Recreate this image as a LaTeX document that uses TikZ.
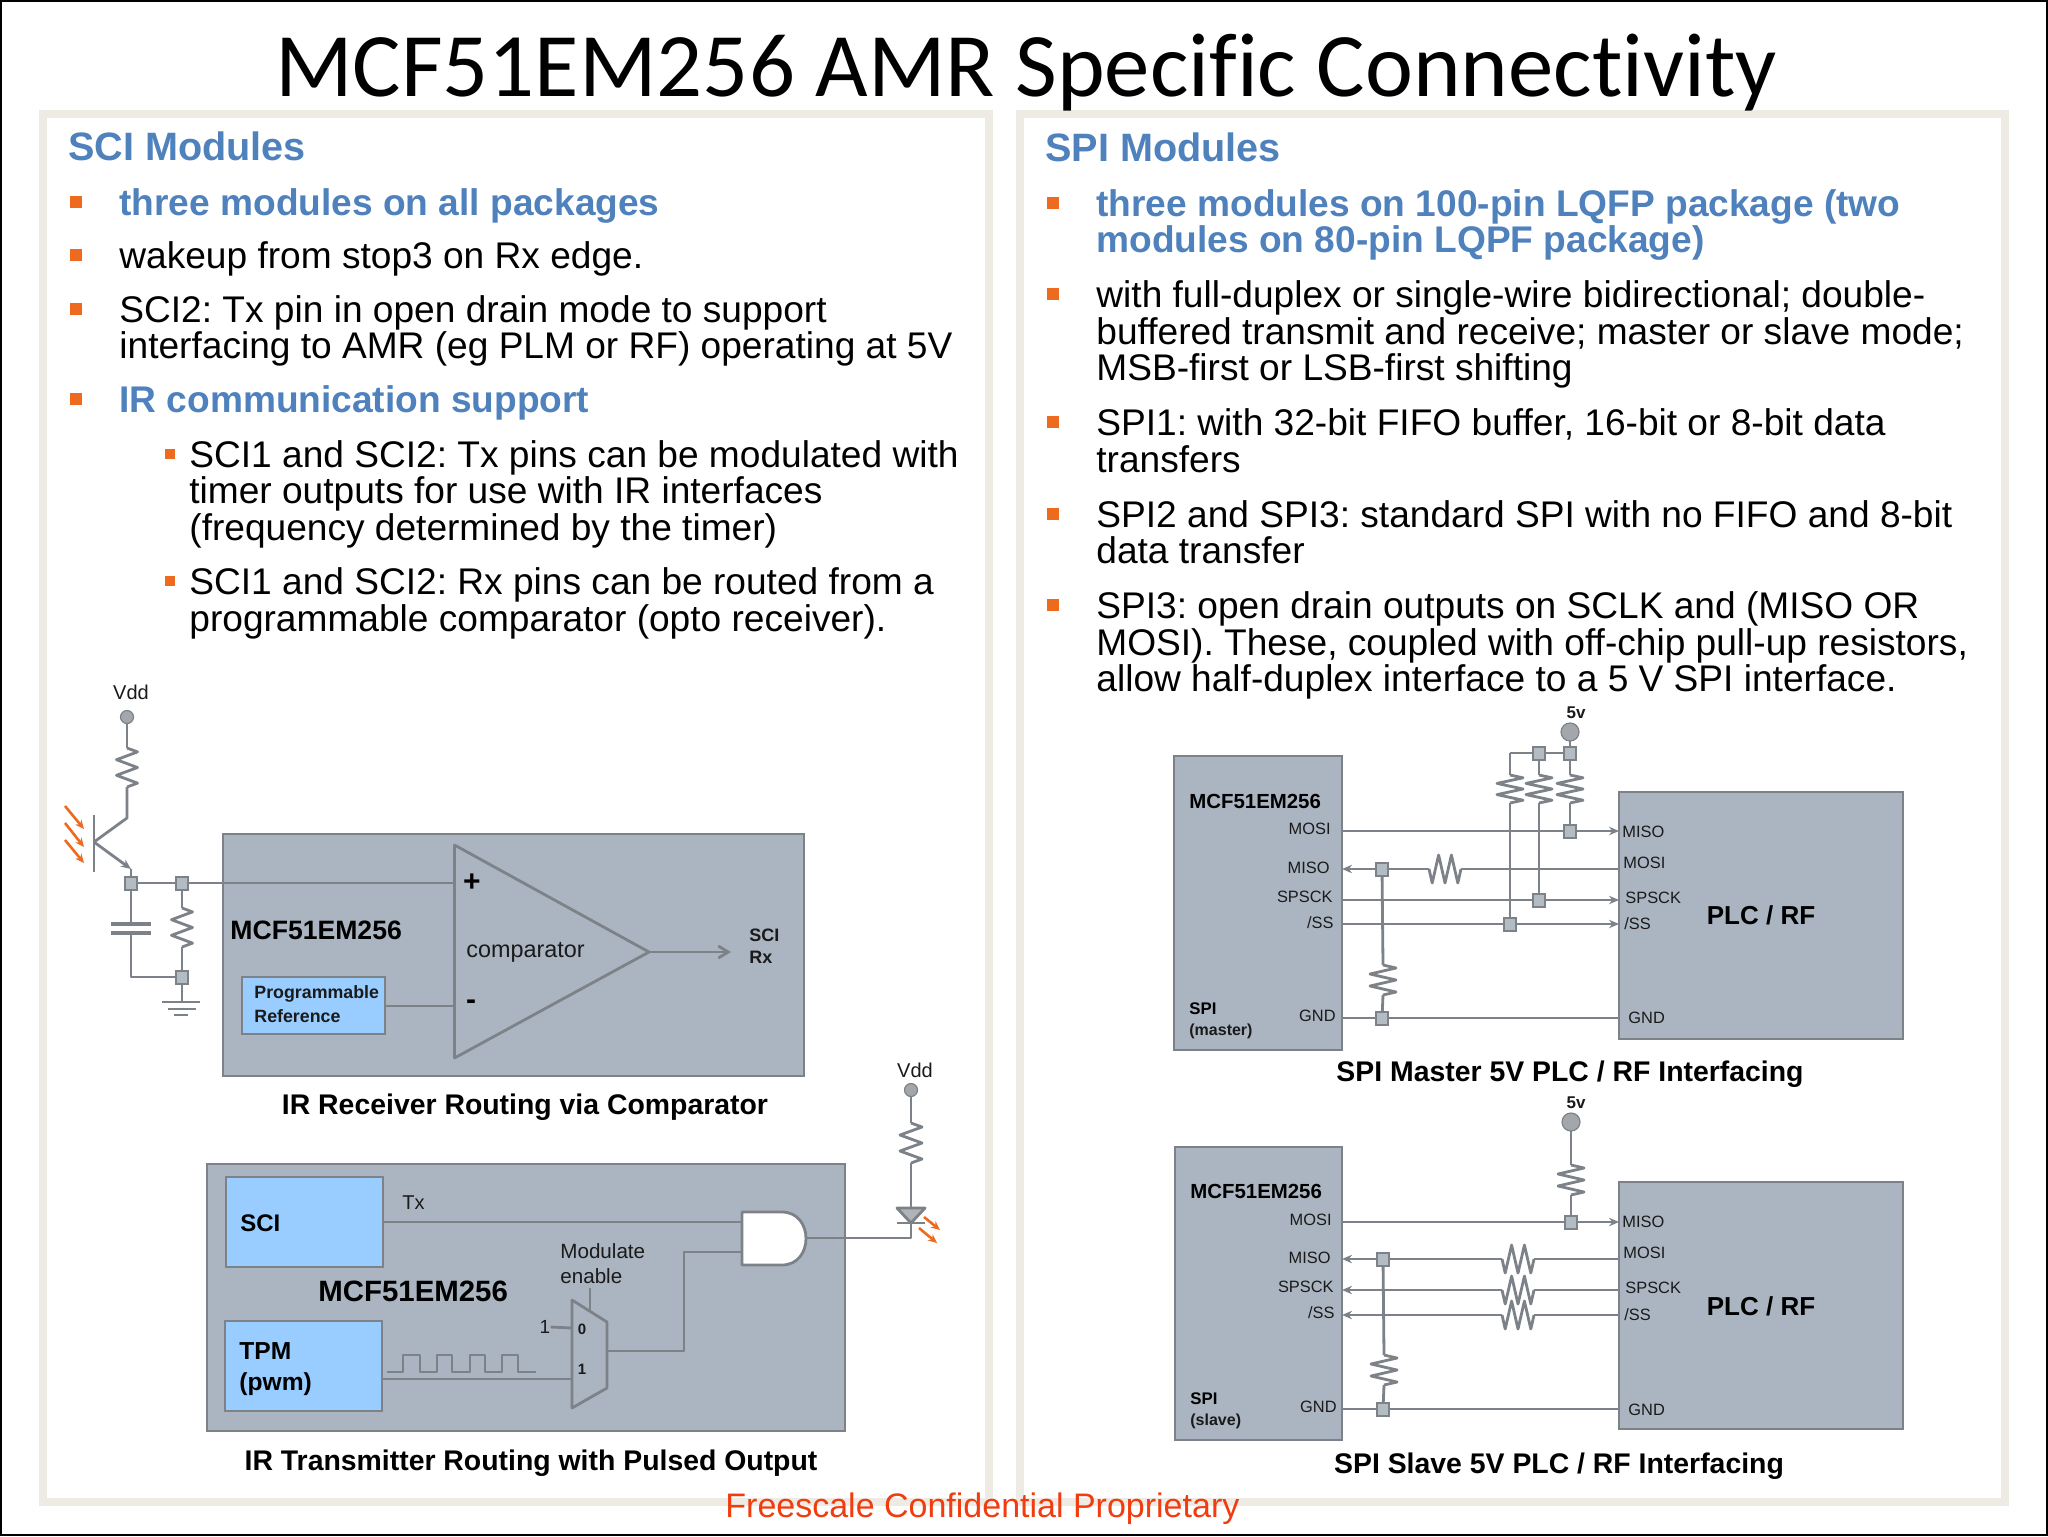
\documentclass[tikz,border=0pt]{standalone}
\usepackage{fontspec}
\setmainfont{Liberation Sans}
\newfontfamily\titlefont[Ligatures={NoCommon,NoContextual}]{Carlito}
\usetikzlibrary{arrows.meta}
\frenchspacing
\definecolor{sblue}{HTML}{4F81BD}
\definecolor{sorange}{HTML}{EE6A1F}
\definecolor{pborder}{HTML}{EDEBE4}
\definecolor{gfill}{HTML}{ABB5C1}
\definecolor{gline}{HTML}{7C8288}
\definecolor{rblue}{HTML}{99CCFF}
\definecolor{jfill}{HTML}{B3BBC3}
\definecolor{footc}{HTML}{F03C0F}
\definecolor{dtxt}{HTML}{1A1A1A}
\tikzset{
  wire/.style={draw=gline,line width=1.4pt,line join=round},
  tipr/.style={-{Stealth[length=5pt,width=4.2pt]}},
  gbox/.style={draw=gline,fill=gfill,line width=1.4pt,anchor=north west,inner sep=0pt,outer sep=0pt},
  bbox/.style={draw=gline,fill=rblue,line width=1.3pt,anchor=north west,inner sep=0pt,outer sep=0pt},
  jn/.style={draw=gline,fill=jfill,line width=1pt,rectangle,minimum width=6pt,minimum height=6.5pt,inner sep=0pt,outer sep=0pt},
  vpin/.style={draw=gline,fill=gline!70,line width=.6pt,circle,inner sep=0pt,outer sep=0pt},
  panelbox/.style={draw=pborder,fill=white,line width=4.3pt},
  bul/.style={fill=sorange,draw=none,rectangle,minimum size=5.8pt,inner sep=0pt,yshift=-0.6pt},
  sbul/.style={fill=sorange,draw=none,rectangle,minimum size=5pt,inner sep=0pt,yshift=-0.6pt},
  bodyt/.style={anchor=base west,inner sep=0pt,yshift=-0.6pt,font=\fontsize{18.55}{20}\selectfont,text=black},
  hot/.style={anchor=base west,inner sep=0pt,yshift=-0.6pt,font=\fontsize{18.55}{20}\selectfont\bfseries,text=sblue},
  headt/.style={anchor=base west,inner sep=0pt,yshift=-0.3pt,font=\fontsize{19.8}{22}\selectfont\bfseries,text=sblue},
  lbl/.style={inner sep=0pt,text=dtxt,font=\fontsize{10}{12}\selectfont},
  capt/.style={inner sep=0pt,yshift=-1.2pt,text=black,font=\fontsize{14.2}{16}\selectfont\bfseries},
  pinl/.style={inner sep=0pt,text=dtxt,font=\fontsize{8.2}{10}\selectfont},
  orarrow/.style={draw=sorange,line width=1.3pt,-{Stealth[length=4.5pt,width=4pt]}}
}
\newcommand{\ResV}[5]{% name x y1 y2 halfwidth
  \coordinate (#1-a) at (#2,#3);\coordinate (#1-b) at (#2,#4);
  \pgfmathsetmacro{\rh}{#4-#3}
  \draw[wire,shift={(#2,#3)},xscale=#5,yscale=\rh] (0,0)--(1,.1)--(-1,.3)--(1,.5)--(-1,.7)--(1,.9)--(0,1);}
\newcommand{\ResH}[5]{% name x1 x2 y halfheight
  \coordinate (#1-a) at (#2,#4);\coordinate (#1-b) at (#3,#4);
  \pgfmathsetmacro{\rh}{#3-#2}
  \draw[wire,shift={(#2,#4)},xscale=\rh,yscale=#5] (0,0)--(.1,1)--(.3,-1)--(.5,1)--(.7,-1)--(.9,1)--(1,0);}
\begin{document}
\begin{tikzpicture}[x=0.5pt,y=-0.5pt]
\useasboundingbox (0,0) rectangle (2048,1536);
\fill[white] (0,0) rectangle (2048,1536);
\draw[black,line width=1pt] (1,1) rectangle (2046.5,1534.5);
% panels
\draw[panelbox] (43,114) rectangle (989,1502);
\draw[panelbox] (1020,114) rectangle (2005,1502);
% title
\node[anchor=base,inner sep=0pt,font=\titlefont\fontsize{45.4}{50}\selectfont] (title) at (1026,97) {MCF51EM256 AMR Specific Connectivity};
% left text
\node[headt] (lh) at (68,160) {SCI Modules};
\node[bul] (lb1) at (76,201) {}; \node[hot] (l1) at (119,214) {three modules on all packages};
\node[bul] (lb2) at (76,254) {}; \node[bodyt] (l2) at (119,267) {wakeup from stop3 on Rx edge.};
\node[bul] (lb3) at (76,308) {}; \node[bodyt] (l3) at (119,321) {SCI2: Tx pin in open drain mode to support};
\node[bodyt] (l4) at (119,357) {interfacing to AMR (eg PLM or RF) operating at 5V};
\node[bul] (lb4) at (76,398) {}; \node[hot] (l5) at (119,411) {IR communication support};
\node[sbul] (lb5) at (170,453) {}; \node[bodyt] (l6) at (189,466) {SCI1 and SCI2: Tx pins can be modulated with};
\node[bodyt] (l7) at (189,502) {timer outputs for use with IR interfaces};
\node[bodyt] (l8) at (189,539) {(frequency determined by the timer)};
\node[sbul] (lb6) at (170,580) {}; \node[bodyt] (l9) at (189,593) {SCI1 and SCI2: Rx pins can be routed from a};
\node[bodyt] (l10) at (189,630) {programmable comparator (opto receiver).};
% right text
\node[headt] (rh) at (1045,161) {SPI Modules};
\node[bul] (rb1) at (1053,202) {}; \node[hot] (r1) at (1096,215) {three modules on 100-pin LQFP package (two};
\node[hot] (r2) at (1096,251) {modules on 80-pin LQPF package)};
\node[bul] (rb2) at (1053,293) {}; \node[bodyt] (r3) at (1096,306) {with full-duplex or single-wire bidirectional; double-};
\node[bodyt] (r4) at (1096,343) {buffered transmit and receive; master or slave mode;};
\node[bodyt] (r5) at (1096,379) {MSB-first or LSB-first shifting};
\node[bul] (rb3) at (1053,421) {}; \node[bodyt] (r6) at (1096,434) {SPI1: with 32-bit FIFO buffer, 16-bit or 8-bit data};
\node[bodyt] (r7) at (1096,471) {transfers};
\node[bul] (rb4) at (1053,513) {}; \node[bodyt] (r8) at (1096,526) {SPI2 and SPI3: standard SPI with no FIFO and 8-bit};
\node[bodyt] (r9) at (1096,562) {data transfer};
\node[bul] (rb5) at (1053,604) {}; \node[bodyt] (r10) at (1096,617) {SPI3: open drain outputs on SCLK and (MISO OR};
\node[bodyt] (r11) at (1096,654) {MOSI). These, coupled with off-chip pull-up resistors,};
\node[bodyt] (r12) at (1096,690) {allow half-duplex interface to a 5 V SPI interface.};
% ===== D1 receiver
\node[gbox,minimum width=290.5pt,minimum height=121pt] (d1) at (223,834) {};
\node[bbox,minimum width=71.5pt,minimum height=28.5pt] (pref) at (242,977) {};
\node[lbl,anchor=west,font=\fontsize{8.9}{10}\selectfont\bfseries] (pref1) at (254,994) {Programmable};
\node[lbl,anchor=west,font=\fontsize{8.9}{10}\selectfont\bfseries] (pref2) at (254,1016) {Reference};
\coordinate (ta) at (454.5,845); \coordinate (tb) at (454.5,1058); \coordinate (tc) at (649,952);
\draw[wire] (ta)--(tc)--(tb)--cycle;
\node[lbl,font=\fontsize{15}{16}\selectfont\bfseries,text=black] (plus) at (472,883) {+};
\node[lbl,font=\fontsize{15}{16}\selectfont\bfseries,text=black] (minus) at (471,1005) {-};
\node[lbl,anchor=west,font=\fontsize{11.7}{13}\selectfont] (cmp) at (466,952) {comparator};
\node[lbl,anchor=west,font=\fontsize{13.3}{15}\selectfont\bfseries,text=black] (d1mcf) at (230,930) {MCF51EM256};
\node[lbl,anchor=west,font=\fontsize{9}{11}\selectfont\bfseries] (scit) at (749,935) {SCI};
\node[lbl,anchor=west,font=\fontsize{9}{11}\selectfont\bfseries] (rxt) at (749,957) {Rx};
\coordinate (out1) at (731,952);
\draw[wire,-{Straight Barb[length=5pt,width=6pt]}] (tc)--(out1);
\draw[wire] (pref.east |- 0,1006)--(454.5,1006);
\node[vpin,minimum size=6.5pt] (vdd1) at (127,717) {};
\node[lbl] (vddt1) at (131,692) {Vdd};
\ResV{r1}{127}{748}{787}{10.5}
\draw[wire] (vdd1)--(r1-a);
\coordinate (col) at (127,818); \coordinate (bas) at (94,842); \coordinate (emi) at (131,869);
\draw[wire] (r1-b)--(col)--(bas);
\draw[wire,line width=1pt] (94,815)--(94,872);
\draw[wire,tipr] (bas)--(emi);
\node[jn] (j1) at (131,883) {};
\node[jn] (j2) at (182,883) {};
\node[jn] (j3) at (182,977) {};
\draw[wire] (emi)--(j1);
\draw[wire] (j1)--(j2)--(454.5,883);
\coordinate (c1) at (131,924); \coordinate (c2) at (131,933);
\draw[wire] (j1)--(c1);
\draw[wire,line width=1.6pt] (111,924)--(151,924);
\draw[wire,line width=1.6pt] (111,933)--(151,933);
\draw[wire] (c2)--(131,977)--(j3);
\ResV{r2}{182}{908}{947}{10.5}
\draw[wire] (j2)--(r2-a); \draw[wire] (r2-b)--(j3);
\coordinate (gnd1) at (182,1002);
\draw[wire] (j3)--(gnd1);
\draw[wire] (162,1002)--(200,1002);
\draw[wire] (168,1009)--(196,1009);
\draw[wire] (174,1015)--(188,1015);
\draw[orarrow] (65,806)--(84,829);
\draw[orarrow] (65,823)--(84,847);
\draw[orarrow] (65,840)--(84,863);
\node[capt] (cap1) at (525,1105) {IR Receiver Routing via Comparator};
% ===== D2 transmitter
\node[gbox,minimum width=319pt,minimum height=133.5pt] (d2) at (207,1164) {};
\node[bbox,minimum width=78.5pt,minimum height=45pt] (sci) at (226,1177) {};
\node[bbox,minimum width=78.5pt,minimum height=45pt] (tpm) at (225,1321) {};
\node[lbl,anchor=west,font=\fontsize{12}{14}\selectfont\bfseries,text=black] (scil) at (240,1223) {SCI};
\node[lbl,anchor=west,font=\fontsize{12.3}{14}\selectfont\bfseries,text=black] (tpml) at (239,1351) {TPM};
\node[lbl,anchor=west,font=\fontsize{12.3}{14}\selectfont\bfseries,text=black] (pwml) at (239,1384) {(pwm)};
\node[lbl,anchor=west,font=\fontsize{14.7}{16}\selectfont\bfseries,text=black] (d2mcf) at (318,1291) {MCF51EM256};
\node[lbl,anchor=west] (txt) at (402,1203) {Tx};
\node[lbl,anchor=west,font=\fontsize{10.3}{12}\selectfont] (mod1) at (560,1251) {Modulate};
\node[lbl,anchor=west,font=\fontsize{10.3}{12}\selectfont] (mod2) at (560,1276) {enable};
\coordinate (andw) at (742,1222); \coordinate (andw2) at (742,1252); \coordinate (ando) at (806,1238);
\draw[wire,fill=white] (742,1212)--(782,1212) .. controls (814,1212) and (814,1265) .. (782,1265)--(742,1265)--cycle;
\draw[wire] (sci.east |- andw)--(andw);
\coordinate (mo) at (607,1351);
\draw[wire] (mo)--(684,1351)--(684,1252)--(andw2);
\draw[wire] (572,1300)--(607,1322)--(607,1388)--(572,1408)--cycle;
\draw[wire] (590,1288)--(590,1311);
\node[lbl,font=\fontsize{7.5}{9}\selectfont\bfseries] (m0) at (582,1329) {0};
\node[lbl,font=\fontsize{7.5}{9}\selectfont\bfseries] (m1) at (582,1369) {1};
\node[lbl,font=\fontsize{9.5}{11}\selectfont] (m1in) at (545,1327) {1};
\draw[wire] (m1in.east)--(572,1328);
\draw[wire] (tpm.east |- 0,1379)--(572,1379);
\draw[wire] (386.5,1372)--(403,1372)--(403,1355)--(420,1355)--(420,1372)--(437,1372)--(437,1355)--(452,1355)--(452,1372)--(470,1372)--(470,1355)--(485,1355)--(485,1372)--(502,1372)--(502,1355)--(518,1355)--(518,1372)--(536,1372);
\node[vpin,minimum size=6.5pt] (vdd2) at (911,1090) {};
\node[lbl] (vddt2) at (915,1070) {Vdd};
\ResV{r3}{911}{1123}{1163}{11}
\draw[wire] (vdd2)--(r3-a);
\coordinate (ledt) at (911,1208); \coordinate (ledb) at (911,1223);
\draw[wire] (r3-b)--(ledt);
\draw[wire,fill=gline!60] (897,1208)--(925,1208)--(911,1223)--cycle;
\draw[wire] (897,1223)--(925,1223);
\draw[wire] (ando)--(911,1238)--(ledb);
\draw[orarrow] (924,1217)--(940,1230);
\draw[orarrow] (919,1228)--(937,1243);
\node[capt] (cap2) at (531,1461) {IR Transmitter Routing with Pulsed Output};
% ===== D3 master
\node[gbox,minimum width=84pt,minimum height=147pt] (d3L) at (1174,756) {};
\node[gbox,minimum width=142pt,minimum height=123.5pt] (d3R) at (1619,792) {};
\node[lbl,anchor=west,font=\fontsize{10.2}{12}\selectfont\bfseries,text=black] (d3mcf) at (1189,801) {MCF51EM256};
\node[lbl,anchor=west,font=\fontsize{8.4}{10}\selectfont\bfseries,text=black] (d3spi) at (1189,1009) {SPI};
\node[lbl,anchor=west,font=\fontsize{8}{10}\selectfont\bfseries] (d3mas) at (1189,1031) {(master)};
\node[lbl,font=\fontsize{13}{15}\selectfont\bfseries,text=black] (d3plc) at (1761,915) {PLC / RF};
\node[lbl,font=\fontsize{8.5}{10}\selectfont\bfseries] (d35v) at (1576,713) {5v};
\node[pinl,anchor=east] (a1) at (1331,829) {MOSI};
\node[pinl,anchor=east] (a2) at (1330,868) {MISO};
\node[pinl,anchor=east] (a3) at (1333,897) {SPSCK};
\node[pinl,anchor=east] (a4) at (1334,923) {/SS};
\node[pinl,anchor=east] (a5) at (1336,1016) {GND};
\node[pinl,anchor=west] (b1) at (1622,832) {MISO};
\node[pinl,anchor=west] (b2) at (1623,863) {MOSI};
\node[pinl,anchor=west] (b3) at (1625,898) {SPSCK};
\node[pinl,anchor=west] (b4) at (1624,924) {/SS};
\node[pinl,anchor=west] (b5) at (1628,1018) {GND};
\node[vpin,minimum size=9pt] (v5a) at (1570,732) {};
\node[jn] (ja) at (1570,753) {};
\node[jn] (jb) at (1539,753) {};
\coordinate (jc) at (1510,753);
\node[jn] (jmo) at (1570,831) {};
\node[jn] (jck) at (1539,900) {};
\node[jn] (jss) at (1510,924) {};
\node[jn] (jmi) at (1382,869) {};
\node[jn] (jgn) at (1382,1018) {};
\draw[wire] (v5a)--(ja); \draw[wire] (ja)--(jb)--(jc);
\ResV{r4}{1510}{775}{803}{13}
\ResV{r5}{1539}{775}{803}{13}
\ResV{r6}{1570}{775}{803}{13}
\draw[wire] (jc)--(r4-a); \draw[wire] (r4-b)--(jss);
\draw[wire] (jb)--(r5-a); \draw[wire] (r5-b)--(jck);
\draw[wire] (ja)--(r6-a); \draw[wire] (r6-b)--(jmo);
\draw[wire,tipr] (d3L.east |- jmo)--(jmo)--(d3R.west |- jmo);
\draw[wire,tipr] (d3L.east |- jck)--(jck)--(d3R.west |- jck);
\draw[wire,tipr] (d3L.east |- jss)--(jss)--(d3R.west |- jss);
\draw[wire] (d3L.east |- jgn)--(jgn)--(d3R.west |- jgn);
\ResH{r7}{1429}{1461}{869}{14}
\draw[wire] (d3R.west |- jmi)--(r7-b);
\draw[wire] (r7-a)--(jmi);
\draw[wire,tipr] (jmi)--(d3L.east |- jmi);
\ResV{r8}{1383}{965}{995}{13}
\draw[wire] (jmi)--(r8-a); \draw[wire] (r8-b)--(jgn);
\node[capt] (cap3) at (1570,1072) {SPI Master 5V PLC / RF Interfacing};
% ===== D4 slave
\node[gbox,minimum width=83.5pt,minimum height=146.5pt] (d4L) at (1175,1147) {};
\node[gbox,minimum width=142pt,minimum height=123.5pt] (d4R) at (1619,1182) {};
\node[lbl,anchor=west,font=\fontsize{10.2}{12}\selectfont\bfseries,text=black] (d4mcf) at (1190,1191) {MCF51EM256};
\node[lbl,anchor=west,font=\fontsize{8.4}{10}\selectfont\bfseries,text=black] (d4spi) at (1190,1399) {SPI};
\node[lbl,anchor=west,font=\fontsize{8}{10}\selectfont\bfseries] (d4sla) at (1190,1421) {(slave)};
\node[lbl,font=\fontsize{13}{15}\selectfont\bfseries,text=black] (d4plc) at (1761,1306) {PLC / RF};
\node[lbl,font=\fontsize{8.5}{10}\selectfont\bfseries] (d45v) at (1576,1103) {5v};
\node[pinl,anchor=east] (c1l) at (1332,1220) {MOSI};
\node[pinl,anchor=east] (c2l) at (1331,1258) {MISO};
\node[pinl,anchor=east] (c3l) at (1334,1287) {SPSCK};
\node[pinl,anchor=east] (c4l) at (1335,1313) {/SS};
\node[pinl,anchor=east] (c5l) at (1337,1407) {GND};
\node[pinl,anchor=west] (e1) at (1622,1222) {MISO};
\node[pinl,anchor=west] (e2) at (1623,1253) {MOSI};
\node[pinl,anchor=west] (e3) at (1625,1288) {SPSCK};
\node[pinl,anchor=west] (e4) at (1624,1315) {/SS};
\node[pinl,anchor=west] (e5) at (1628,1410) {GND};
\node[vpin,minimum size=9pt] (v5b) at (1571,1122) {};
\node[jn] (kmo) at (1571,1222) {};
\node[jn] (kmi) at (1383,1259) {};
\node[jn] (kgn) at (1383,1409) {};
\coordinate (kck) at (1342,1290); \coordinate (kss) at (1342,1315);
\ResV{r9}{1571}{1165}{1195}{13}
\draw[wire] (v5b)--(r9-a); \draw[wire] (r9-b)--(kmo);
\draw[wire,tipr] (d4L.east |- kmo)--(kmo)--(d4R.west |- kmo);
\ResH{r10}{1502}{1534}{1259}{14}
\ResH{r11}{1502}{1534}{1290}{14}
\ResH{r12}{1502}{1534}{1315}{14}
\draw[wire] (d4R.west |- kmi)--(r10-b); \draw[wire] (r10-a)--(kmi);
\draw[wire,tipr] (kmi)--(d4L.east |- kmi);
\draw[wire] (d4R.west |- kck)--(r11-b);
\draw[wire,tipr] (r11-a)--(kck);
\draw[wire] (d4R.west |- kss)--(r12-b);
\draw[wire,tipr] (r12-a)--(kss);
\draw[wire] (d4L.east |- kgn)--(kgn)--(d4R.west |- kgn);
\ResV{r13}{1384}{1355}{1385}{13}
\draw[wire] (kmi)--(r13-a); \draw[wire] (r13-b)--(kgn);
\node[capt] (cap4) at (1559,1464) {SPI Slave 5V PLC / RF Interfacing};
% footer
\node[anchor=base west,inner sep=0pt,text=footc,font=\fontsize{17}{18}\selectfont] (foot) at (725,1517) {Freescale Confidential Proprietary};
\end{tikzpicture}
\end{document}
